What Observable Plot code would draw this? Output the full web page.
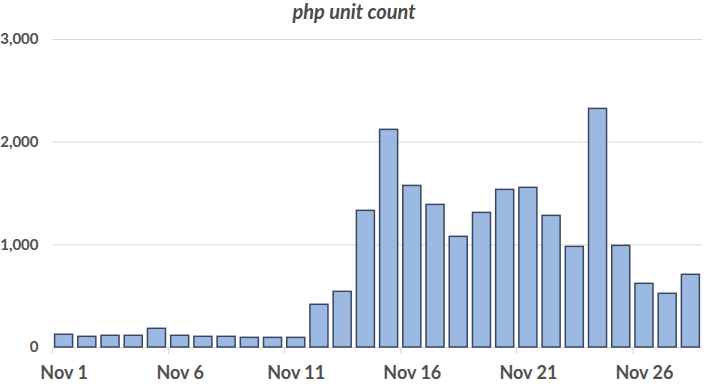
<!DOCTYPE html>
<html><head><meta charset="utf-8">
<script src="https://cdn.jsdelivr.net/npm/d3@7"></script>
<script src="https://cdn.jsdelivr.net/npm/@observablehq/plot@0.6"></script>
<style>
body{margin:0;background:#fff;font-family:Lato,sans-serif}
#title{width:708px;height:24px;line-height:22px;text-align:center;font-weight:bold;font-style:italic;font-size:20px;color:#4a4a4a}
</style></head><body>
<div id="title">php unit count</div>
<div id="chart"></div>
<script>
const days = [1,2,3,4,5,6,7,8,9,10,11,12,13,14,15,16,17,18,19,20,21,22,23,24,25,26,27,28];
const counts = [124,104,114,114,182,114,104,104,94,94,94,416,542,1331,2120,1574,1389,1078,1311,1535,1555,1282,980,2324,990,620,523,708];
const labelDays = [1,6,11,16,21,26];
const tickLabels = ["Nov 1","Nov 6","Nov 11","Nov 16","Nov 21","Nov 26"];
const boundaries = [0.5,5.5,10.5,15.5,20.5,25.5];
const yTicks = [0,1000,2000,3000];

const data = days.map((d,i)=>({day:d,count:counts[i]}));
const chart = Plot.plot({
  width:708, height:364, marginLeft:52, marginRight:6, marginTop:15, marginBottom:41,
  x:{domain:[0.5,28.5]},
  y:{domain:[0,3000]},
  style:{fontFamily:"Lato, sans-serif", background:"#fff"},
  marks:[
    Plot.gridY(yTicks,{stroke:"#d9d9d9",strokeOpacity:1,strokeWidth:1}),
    Plot.rectY(data,{x1:d=>d.day-0.5,x2:d=>d.day+0.5,y:"count",insetLeft:2.6,insetRight:2.6,fill:"#9cbae1",stroke:"#3a4660",strokeWidth:1.5}),
    Plot.axisY(yTicks,{tickSize:0,tickPadding:14,tickFormat:d3.format(","),fontSize:15,fontWeight:"bold",fill:"#505050",label:null}),
    Plot.axisX(boundaries,{tickSize:7,tickFormat:()=>"",stroke:"#d9d9d9",strokeOpacity:1,label:null}),
    Plot.axisX(labelDays,{tickSize:0,tickPadding:19,tickFormat:d=>tickLabels[labelDays.indexOf(d)],fontSize:18,fontWeight:"bold",fill:"#505050",label:null})
  ]
});
document.getElementById("chart").appendChild(chart);
</script>
</body></html>
